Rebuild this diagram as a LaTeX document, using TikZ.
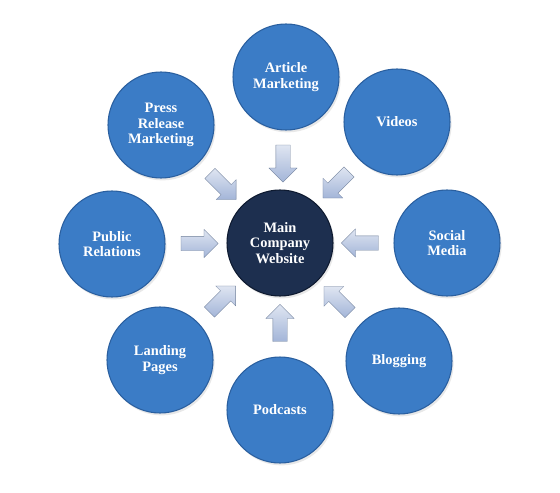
\documentclass[tikz,border=0pt]{standalone}
\usepackage{fontspec}
\setmainfont{Liberation Serif}
\usetikzlibrary{shapes,arrows,positioning,calc,shadows}

\definecolor{bubbleblue}{HTML}{3B7CC6}
\definecolor{bubblerim}{HTML}{2A5F9F}
\definecolor{hubnavy}{HTML}{1D2F4F}
\definecolor{hubrim}{HTML}{0E1A30}
\definecolor{arrowfill}{HTML}{A3B5D8}
\definecolor{arrowrim}{HTML}{6F7F9A}

\begin{document}
\begin{tikzpicture}[x=0.5mm, y=-0.5mm,
			bubble/.style={circle, draw=bubblerim, line width=1.5pt, fill=bubbleblue,
				minimum size=53mm, inner sep=0pt, text=white, align=center,
				font=\fontsize{20.5}{22}\selectfont\bfseries,
				drop shadow={opacity=0.18, shadow xshift=0.8mm, shadow yshift=-1.2mm}},
			hub/.style={bubble, fill=hubnavy, draw=hubrim},
			feeder/.style={single arrow, draw=arrowrim, thin, inner xsep=0pt, inner ysep=3.5mm,
				top color=arrowfill!35!white, bottom color=arrowfill,
				minimum height=18.5mm, single arrow head extend=3.5mm}]
			
			\useasboundingbox (0,0) rectangle (560,493);
			
			% Main website
			\node[hub] (hub) at (280,243) {Main\\Company\\Website};
			
			% Channels
			\node[bubble] (art) at (286,77) {Article\\Marketing};
			\node[bubble] (vid) at (397,122) {Videos};
			\node[bubble] (soc) at (447,243) {Social\\Media};
			\node[bubble] (blg) at (399,361) {Blogging};
			\node[bubble] (pod) at (280,410) {Podcasts};
			\node[bubble] (lnd) at (160,360) {Landing\\Pages};
			\node[bubble] (pub) at (112,244) {Public\\Relations};
			\node[bubble] (prs) at (161,125) {Press\\Release\\Marketing};
			
			% Arrows into the hub
			\node[feeder, rotate=-90] (a1) at ($(hub)!0.5!(art)$) {};
			\node[feeder, rotate=-135] (a2) at ($(hub)!0.5!(vid)$) {};
			\node[feeder, rotate=180] (a3) at ($(hub)!0.5!(soc)$) {};
			\node[feeder, rotate=135] (a4) at ($(hub)!0.5!(blg)$) {};
			\node[feeder, rotate=90] (a5) at ($(hub)!0.5!(pod)$) {};
			\node[feeder, rotate=45] (a6) at ($(hub)!0.5!(lnd)$) {};
			\node[feeder, rotate=0] (a7) at ($(hub)!0.5!(pub)$) {};
			\node[feeder, rotate=-45] (a8) at ($(hub)!0.5!(prs)$) {};
		\end{tikzpicture}
\end{document}
